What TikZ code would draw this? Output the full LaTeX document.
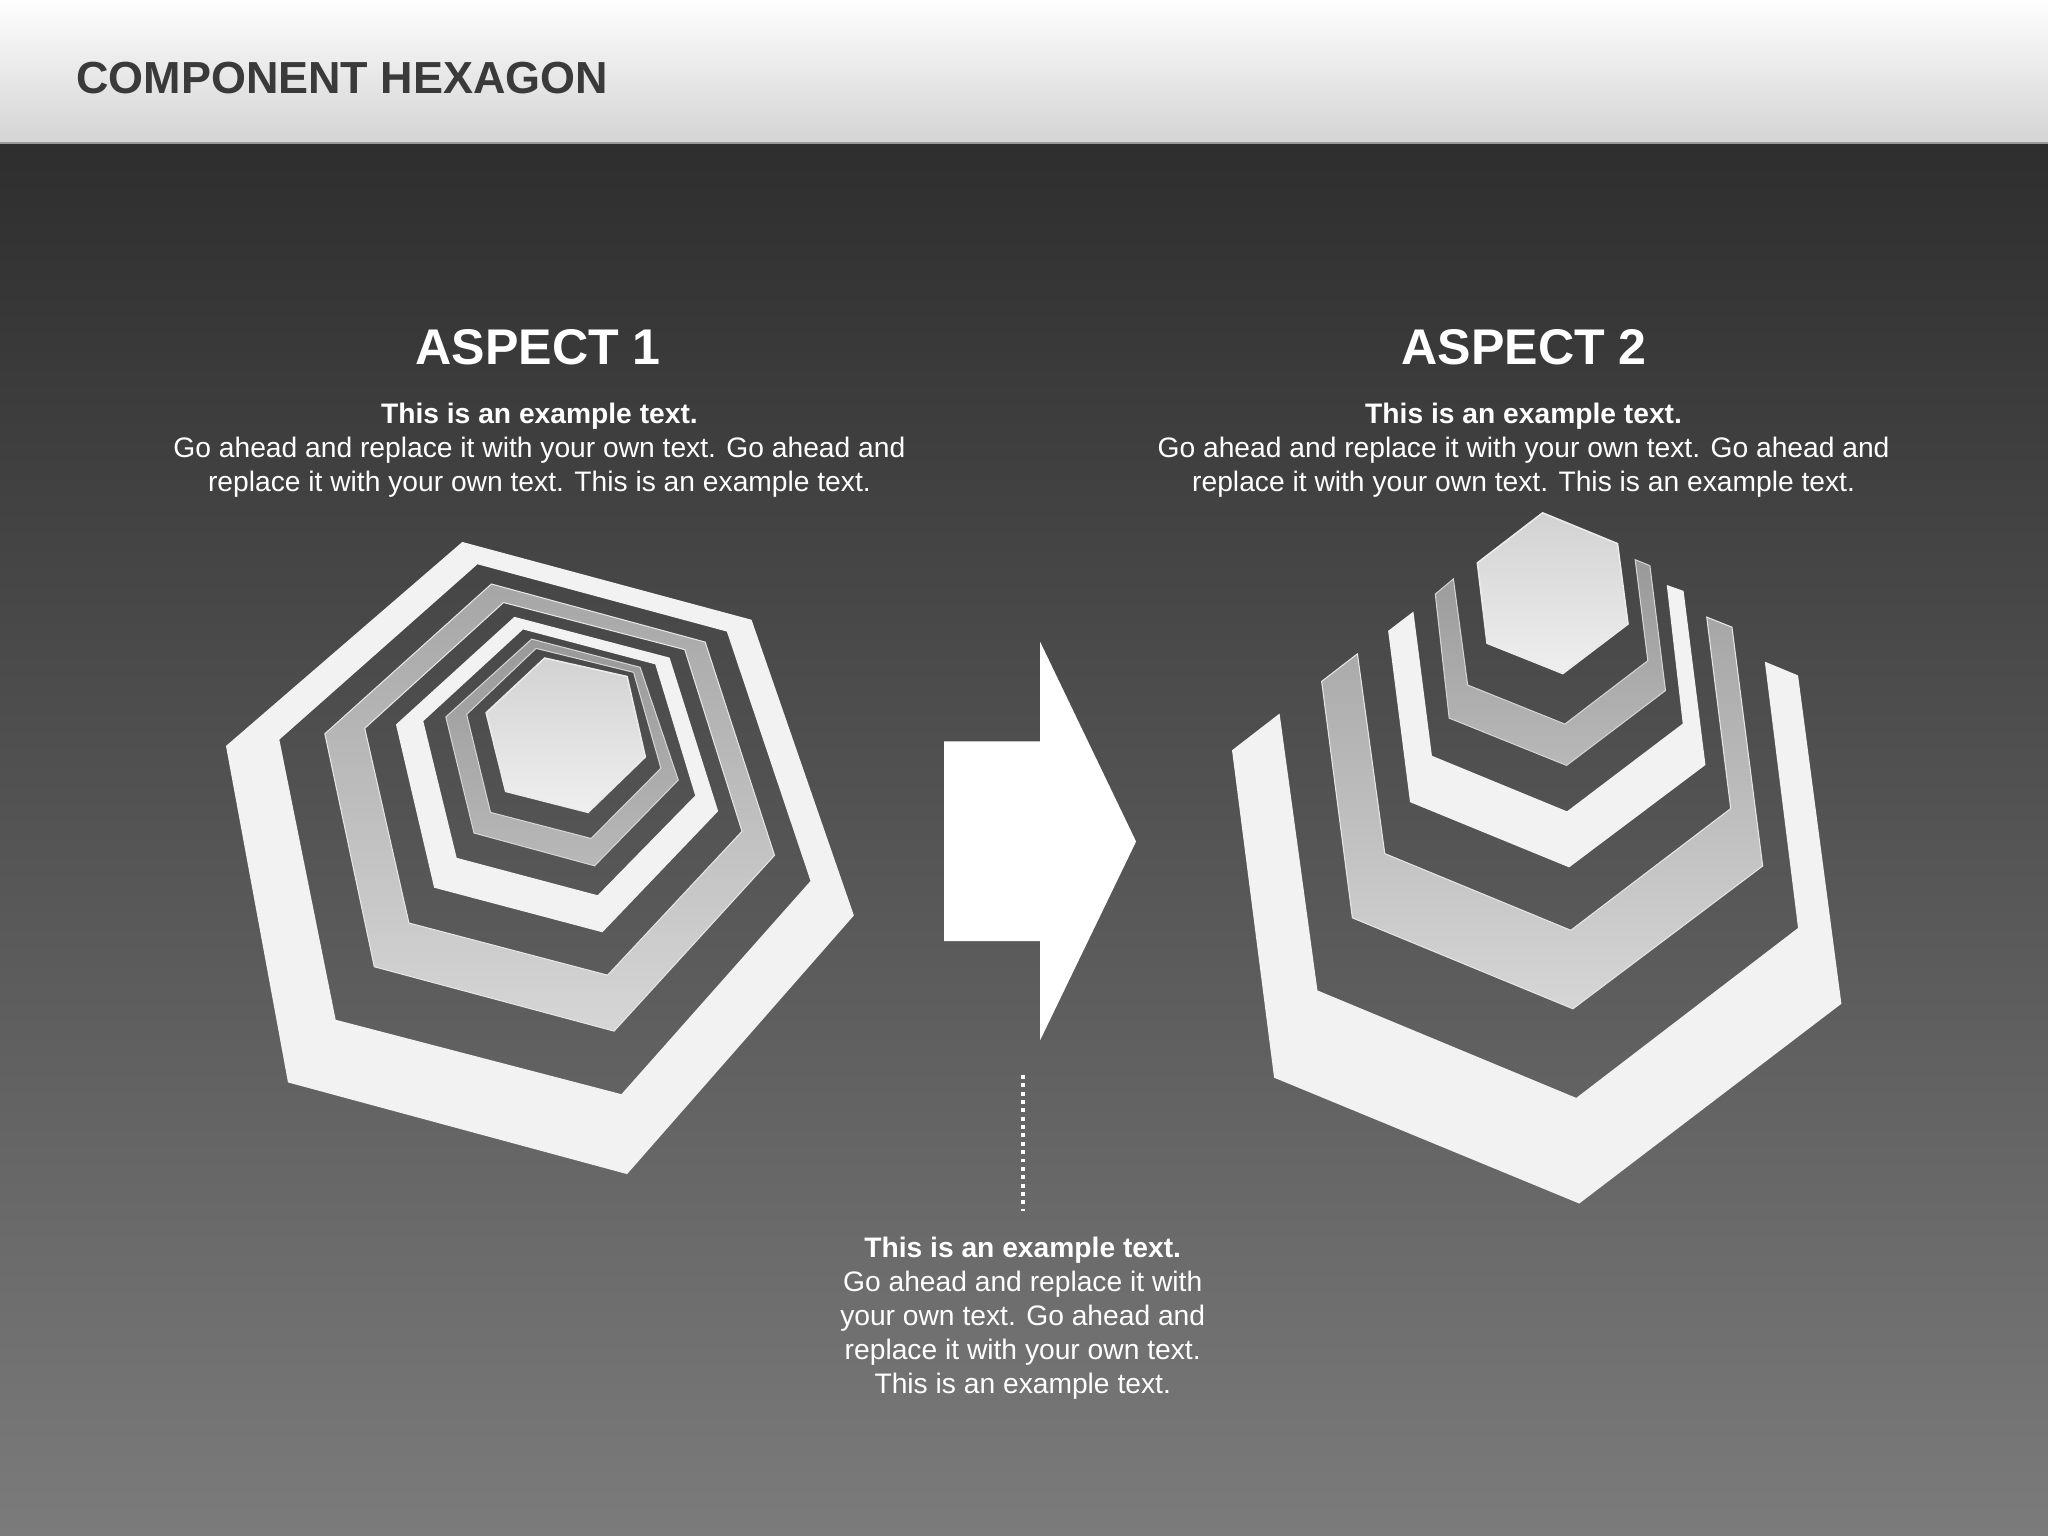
\documentclass[tikz,border=0pt]{standalone}
\usepackage{fontspec}
\setmainfont{Liberation Sans}
\definecolor{bgtop}{HTML}{2E2E2E}
\definecolor{bgbot}{HTML}{7B7B7B}
\definecolor{hdtop}{HTML}{FEFEFE}
\definecolor{hdbot}{HTML}{D4D4D4}
\definecolor{titlec}{HTML}{3A3A3A}
\definecolor{ringw}{HTML}{F2F2F2}
\definecolor{gAtop}{HTML}{A6A6A6}
\definecolor{gAbot}{HTML}{D6D6D6}
\definecolor{gBtop}{HTML}{999999}
\definecolor{gBbot}{HTML}{B8B8B8}
\definecolor{ctop}{HTML}{D2D2D2}
\definecolor{cbot}{HTML}{EFEFEF}
\tikzset{
  whitering/.style={fill=ringw, even odd rule},
  grayringA/.style={top color=gAtop, bottom color=gAbot, even odd rule, draw=gAbot!60!white, line width=0.4pt},
  grayringB/.style={top color=gBtop, bottom color=gBbot, even odd rule, draw=gBbot!60!white, line width=0.4pt},
  centerhex/.style={top color=ctop, bottom color=cbot, draw=white!92!black, line width=0.6pt},
  headtext/.style={text=white, font=\fontsize{19.2}{23}\selectfont\bfseries, inner sep=0pt},
  bodytext/.style={text=white, font=\fontsize{10.8}{13}\selectfont, align=center, inner sep=0pt},
  dotline/.style={white, line width=1.5pt, dash pattern=on 1.5pt off 1.7pt}
}
\begin{document}
\begin{tikzpicture}[x=0.5pt, y=-0.5pt]
\useasboundingbox (0,0) rectangle (1568,1176);
% background
\shade[top color=bgtop, bottom color=bgbot] (0,110) rectangle (1568,1176);
\shade[top color=hdtop, bottom color=hdbot] (0,0) rectangle (1568,109);
\fill[black!40] (0,108.5) rectangle (1568,110.5);
\node[anchor=west, text=titlec, font=\fontsize{17.2}{20}\selectfont\bfseries, inner sep=0pt] (title) at (58,60) {COMPONENT HEXAGON};

% headings and texts
\node[headtext] (asp1) at (412,266) {ASPECT 1};
\node[headtext] (asp2) at (1167,266) {ASPECT 2};
\node[bodytext] (txt1) at (413,345) {\textbf{This is an example text.}\\Go ahead and replace it with your own text. Go ahead and\\replace it with your own text. This is an example text.};
\node[bodytext] (txt2) at (1166.5,345) {\textbf{This is an example text.}\\Go ahead and replace it with your own text. Go ahead and\\replace it with your own text. This is an example text.};
\node[bodytext] (txt3) at (783,1009) {\textbf{This is an example text.}\\Go ahead and replace it with\\your own text. Go ahead and\\replace it with your own text.\\This is an example text.};

% left hexagon
\begin{scope}[shift={(153.1,398.2)}, xscale=0.332, yscale=0.322]
\fill[whitering] (605,52)--(1272,237)--(1508,940)--(985,1555)--(203,1337)--(60,537)--cycle
  (640,105)--(1215,265)--(1408,858)--(972,1365)--(313,1188)--(183,522)--cycle;
\shade[grayringA] (672,152)--(1165,290)--(1325,797)--(955,1215)--(402,1062)--(288,508)--cycle
  (700,196)--(1118,308)--(1250,740)--(940,1082)--(482,958)--(380,495)--cycle;
\fill[whitering] (725,230)--(1083,327)--(1195,692)--(928,980)--(540,874)--(452,486)--cycle
  (745,260)--(1050,343)--(1142,655)--(917,892)--(592,803)--(515,478)--cycle;
\shade[grayringB] (765,283)--(1015,350)--(1103,618)--(910,822)--(632,744)--(567,468)--cycle
  (775,305)--(1000,362)--(1063,590)--(902,757)--(670,695)--(615,462)--cycle;
\shade[centerhex] (795,328)--(985,372)--(1027,563)--(895,695)--(705,645)--(660,458)--cycle;
\end{scope}

% right hexagon
\begin{scope}[shift={(926.5,382.8)}, xscale=0.3222, yscale=0.3516]
\fill[ringw] (52,545)--(165,465)--(255,1068)--(870,1302)--(1397,932)--(1318,352)--(1397,382)--(1500,1097)--(877,1532)--(152,1258)--cycle;
\shade[top color=gAtop, bottom color=gAbot, draw=gAbot!60!white, line width=0.4pt] (265,395)--(350,335)--(415,770)--(857,937)--(1237,672)--(1180,255)--(1240,277)--(1313,797)--(862,1108)--(338,910)--cycle;
\fill[ringw] (423,285)--(483,243)--(527,557)--(848,678)--(1123,487)--(1085,185)--(1125,198)--(1177,577)--(853,800)--(475,658)--cycle;
\shade[top color=gBtop, bottom color=gBbot, draw=gBbot!60!white, line width=0.4pt] (535,205)--(578,172)--(612,403)--(843,488)--(1040,350)--(1010,130)--(1045,143)--(1082,415)--(847,578)--(568,475)--cycle;
\shade[centerhex] (790,28)--(968,95)--(993,270)--(838,378)--(658,312)--(635,137)--cycle;
\end{scope}

% arrow
\fill[white] (722.8,567.7)--(796.3,567.7)--(796.3,491.3)--(869.8,644.3)--(796.3,796.5)--(796.3,720.5)--(722.8,720.5)--cycle;

% dotted connector
\coordinate (dtop) at (783.5,823);
\coordinate (dbot) at (783.5,927);
\draw[dotline] (dtop) -- (dbot);
\end{tikzpicture}
\end{document}
